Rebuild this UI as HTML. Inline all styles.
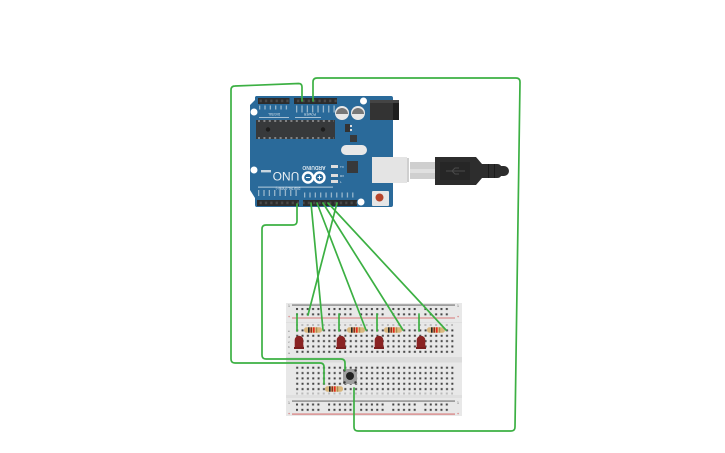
<!DOCTYPE html>
<html>
<head>
<meta charset="utf-8">
<style>
html,body{margin:0;padding:0;background:#fff}
svg{display:block;filter:blur(0.3px)}
text{font-family:"Liberation Sans",sans-serif}
</style>
</head>
<body>
<svg width="725" height="453" viewBox="0 0 725 453" xmlns="http://www.w3.org/2000/svg">
<defs>
<pattern id="h" x="294.5" y="327.7" width="5.35" height="5.35" patternUnits="userSpaceOnUse"><rect x="1.7" y="1.7" width="2" height="2" fill="#444"/></pattern>
<pattern id="h2" x="294.5" y="365" width="5.35" height="5.35" patternUnits="userSpaceOnUse"><rect x="1.7" y="1.7" width="2" height="2" fill="#444"/></pattern>
<pattern id="r" x="295" y="307" width="32.1" height="5.35" patternUnits="userSpaceOnUse">
<rect x="1" y="1" width="2" height="2" fill="#444"/><rect x="6.35" y="1" width="2" height="2" fill="#444"/><rect x="11.7" y="1" width="2" height="2" fill="#444"/><rect x="17.05" y="1" width="2" height="2" fill="#444"/><rect x="22.4" y="1" width="2" height="2" fill="#444"/>
</pattern>
<pattern id="r2" x="295" y="402.5" width="32.1" height="5.35" patternUnits="userSpaceOnUse">
<rect x="1" y="1" width="2" height="2" fill="#444"/><rect x="6.35" y="1" width="2" height="2" fill="#444"/><rect x="11.7" y="1" width="2" height="2" fill="#444"/><rect x="17.05" y="1" width="2" height="2" fill="#444"/><rect x="22.4" y="1" width="2" height="2" fill="#444"/>
</pattern>
<pattern id="pin" x="258" y="98" width="5.35" height="6" patternUnits="userSpaceOnUse"><rect width="5.35" height="6" fill="#2c2c2c"/><rect x="1.6" y="1.6" width="2.2" height="2.6" fill="#4a4a4a"/></pattern>
<g id="res">
<rect x="-9" y="-2.7" width="18" height="5.4" rx="2.4" fill="#d9b77e"/>
<rect x="-5" y="-2.7" width="1.6" height="5.4" fill="#222"/>
<rect x="-2.5" y="-2.7" width="1.6" height="5.4" fill="#8c2a1c"/>
<rect x="0" y="-2.7" width="1.6" height="5.4" fill="#e8261c"/>
<rect x="3" y="-2.7" width="1.2" height="5.4" fill="#a88a50"/>
</g>
<g id="led">
<path d="M-4.3 12V3a4.300 4.300 0 0 1 8.600 0v9z" fill="#8a2323"/>
<rect x="-5" y="10" width="10" height="2" fill="#7a1e1e"/>
</g>
</defs>

<!-- Breadboard -->
<rect x="286" y="303" width="176" height="113" fill="#e8e8e8"/>
<rect x="286" y="357" width="176" height="5.5" fill="#dcdcdc"/>
<rect x="286" y="322" width="176" height="1" fill="#dfdfdf"/>
<rect x="286" y="395" width="176" height="3" fill="#dfdfdf"/>
<rect x="292" y="304.6" width="163" height="0.9" fill="#555"/>
<rect x="292" y="317.4" width="163" height="1.2" fill="#d98a8a"/>
<rect x="292" y="400.6" width="163" height="0.9" fill="#555"/>
<rect x="292" y="413.4" width="163" height="1.4" fill="#d98a8a"/>
<rect x="295" y="307" width="160" height="10" fill="url(#r)"/>
<rect x="295" y="402.5" width="160" height="10" fill="url(#r2)"/>
<rect x="295" y="328" width="159" height="26.500" fill="url(#h)"/>
<rect x="295" y="365" width="159" height="26.500" fill="url(#h2)"/>
<line x1="296" y1="325" x2="453" y2="325" stroke="#bbb" stroke-width="2" stroke-dasharray="2 3.35"/>
<line x1="296" y1="393.500" x2="453" y2="393.500" stroke="#bbb" stroke-width="2" stroke-dasharray="2 3.35"/>
<text x="289" y="307" font-size="3.500" fill="#666" text-anchor="middle">1</text>
<text x="458" y="307" font-size="3.500" fill="#666" text-anchor="middle">1</text>
<text x="289" y="318" font-size="4" fill="#c33" text-anchor="middle">+</text>
<text x="458" y="318" font-size="4" fill="#c33" text-anchor="middle">+</text>
<text x="289" y="332" font-size="3" fill="#666" text-anchor="middle">e</text>
<text x="289" y="338" font-size="3" fill="#666" text-anchor="middle">d</text>
<text x="289" y="343" font-size="3" fill="#666" text-anchor="middle">c</text>
<text x="289" y="348" font-size="3" fill="#666" text-anchor="middle">b</text>
<text x="289" y="354" font-size="3" fill="#666" text-anchor="middle">a</text>
<text x="289" y="404" font-size="3.500" fill="#666" text-anchor="middle">1</text>
<text x="458" y="404" font-size="3.500" fill="#666" text-anchor="middle">1</text>
<text x="289" y="415" font-size="4" fill="#c33" text-anchor="middle">+</text>
<text x="458" y="415" font-size="4" fill="#c33" text-anchor="middle">+</text>

<!-- Components on breadboard -->
<use href="#res" x="313" y="330"/>
<use href="#res" x="356" y="330"/>
<use href="#res" x="393" y="330"/>
<use href="#res" x="436" y="330"/>
<use href="#res" x="334" y="389"/>
<use href="#led" x="299" y="337"/>
<use href="#led" x="341" y="337"/>
<use href="#led" x="379" y="337"/>
<use href="#led" x="421" y="337"/>
<rect x="343" y="369" width="14" height="15" fill="#a0a0a0"/>
<circle cx="344.500" cy="370.500" r="1.200" fill="#333"/><circle cx="355.500" cy="370.500" r="1.200" fill="#333"/>
<circle cx="344.500" cy="382.500" r="1.200" fill="#333"/><circle cx="355.500" cy="382.500" r="1.200" fill="#333"/>
<circle cx="350" cy="376" r="4" fill="#222"/>

<!-- Arduino -->
<path d="M256 96H391a2 2 0 0 1 2 2V205a2 2 0 0 1-2 2H257a2 2 0 0 1-2-2V198L250 190V105L255 100V97z" fill="#2a6a9a"/>
<rect x="258" y="98" width="31.500" height="6" fill="url(#pin)"/>
<rect x="294" y="98" width="43" height="6" fill="url(#pin)"/>
<rect x="257" y="200" width="42" height="6" fill="url(#pin)"/>
<rect x="303" y="200" width="54" height="6" fill="url(#pin)"/>

<rect x="370" y="100" width="24" height="20" fill="#333"/>
<rect x="393" y="100" width="6" height="20" fill="#1f1f1f"/>
<rect x="370" y="100" width="29" height="3" fill="#444"/>
<circle cx="342" cy="113" r="7" fill="#e8e8e8"/><path d="M336 114a6 6 0 0 1 12 0z" fill="#777"/>
<circle cx="358" cy="113" r="7" fill="#e8e8e8"/><path d="M352 114a6 6 0 0 1 12 0z" fill="#777"/>

<rect x="256" y="120" width="79" height="19" fill="#37393b"/>
<g stroke="#ccc" stroke-width="1" stroke-dasharray="2 3.400"><line x1="258" y1="121" x2="334" y2="121"/><line x1="258" y1="138" x2="334" y2="138"/></g>
<circle cx="268" cy="129.500" r="2.200" fill="#1d1d1d"/><circle cx="323" cy="129.500" r="2.200" fill="#1d1d1d"/>

<rect x="345" y="124" width="5" height="8" fill="#333"/>
<rect x="350" y="125" width="2" height="2" fill="#ddd"/>
<rect x="350" y="129" width="2" height="2" fill="#ddd"/>
<rect x="350" y="135" width="7" height="7" fill="#37393b"/>
<rect x="341" y="145" width="26" height="10" rx="5" fill="#e8e8e8"/>
<rect x="347" y="161" width="11" height="12" fill="#37393b"/>
<rect x="331" y="165" width="7" height="3" fill="#ddd"/>
<rect x="331" y="174" width="7" height="3" fill="#ddd"/>
<rect x="331" y="180" width="7" height="3" fill="#ddd"/>
<rect x="261" y="170" width="10" height="2.400" fill="#c8d6e0"/>

<!-- Board labels -->
<g fill="#dbe6ee" font-size="3.600">
<text transform="translate(274 113) rotate(180)" text-anchor="middle" font-size="3.200">DIGITAL</text>
<text transform="translate(310 113) rotate(180)" text-anchor="middle" font-size="3.200">POWER</text>
<text transform="translate(314 166) rotate(180)" text-anchor="middle" font-size="5" font-weight="bold">ARDUINO</text>
<text transform="translate(286 172) rotate(180)" text-anchor="middle" font-size="12" fill="#e9eff4">UNO</text>
<text transform="translate(288 187.500) rotate(180)" text-anchor="middle" font-size="3.200">DIGITAL (PWM~)</text>
<text x="340" y="168" font-size="3">TX</text>
<text x="340" y="177" font-size="3">RX</text>
<text x="340" y="183" font-size="3">L</text>
</g>
<line x1="259" y1="107.500" x2="289" y2="107.500" stroke="#c5d5e0" stroke-width="4" stroke-dasharray="1.300 4.050" opacity=".7"/>
<line x1="296" y1="109" x2="337" y2="109" stroke="#c5d5e0" stroke-width="7" stroke-dasharray="1.300 4.050" opacity=".7"/>
<line x1="258" y1="193" x2="299" y2="193" stroke="#c5d5e0" stroke-width="6" stroke-dasharray="1.300 4.050" opacity=".7"/>
<line x1="304" y1="195" x2="357" y2="195" stroke="#c5d5e0" stroke-width="5" stroke-dasharray="1.300 4.050" opacity=".7"/>
<rect x="258" y="186.700" width="75" height="0.800" fill="#dbe6ee"/>
<rect x="259" y="117" width="30" height=".7" fill="#dbe6ee"/>
<rect x="295" y="117" width="26" height=".7" fill="#dbe6ee"/>

<!-- Arduino logo -->
<g fill="none" stroke="#fff" stroke-width="2.400">
<circle cx="308" cy="177.500" r="5"/>
<circle cx="319.500" cy="177.500" r="5"/>
</g>
<path d="M317.500 177.500h4M319.500 175.500v4M306 177.500h4" stroke="#fff" stroke-width="1"/>

<circle cx="363.500" cy="101" r="3.500" fill="#fff"/>
<circle cx="254" cy="112" r="3.500" fill="#fff"/>
<circle cx="254" cy="170" r="3.500" fill="#fff"/>
<circle cx="361" cy="202" r="3.500" fill="#fff"/>

<rect x="372" y="191" width="17" height="15" rx="1" fill="#e6e6e6"/>
<circle cx="379.500" cy="197.500" r="4" fill="#b5432a"/>

<!-- USB -->
<rect x="372" y="157" width="35" height="26" fill="#e4e4e4"/>
<rect x="407" y="158" width="2" height="24" fill="#cfcfcf"/>
<rect x="410" y="162" width="25" height="17" fill="#cfcfcf"/>
<rect x="410" y="169" width="25" height="4" fill="#e0e0e0"/>
<path d="M435 157H476L482 164H497Q500 164 501 166H504A5 5 0 0 1 504 176H501Q500 178 497 178H482L476 185H435z" fill="#2d2d2d"/>
<rect x="440" y="162" width="30" height="18" fill="#262626"/>
<path d="M446 171H465M452 171l3-3h4M452 171l3 3h4" stroke="#4a4a4a" stroke-width="1" fill="none"/>
<rect x="488" y="164" width="1" height="14" fill="#1b1b1b"/>
<rect x="494" y="164" width="1" height="14" fill="#1b1b1b"/>

<!-- Wires -->
<g fill="none" stroke="#3cb043" stroke-width="1.700" stroke-linecap="round" stroke-linejoin="round">
<path d="M302 101V87Q302 83.500 298.500 83.500L235 86Q231 86 231 90V359Q231 363 235 363H320Q324 363 324 367V384"/>
<path d="M313 101V82Q313 78 317 78H516Q520 78 520 82L515 427Q515 431 511 431H358Q354 431 354 427V388"/>
<path d="M297 204V221Q297 225 293 225H266Q262 225 262 229V355Q262 359 266 359H341Q345 359 345 363V370"/>
<path d="M311 203L323 330"/>
<path d="M317 203L366 330"/>
<path d="M323 203L403 330"/>
<path d="M328 203L446 330"/>
<path d="M337 203L308 315"/>
<path d="M297 314V331"/>
<path d="M339 314V331"/>
<path d="M377 314V331"/>
<path d="M419 314V331"/>
</g>
</svg>
</body>
</html>
